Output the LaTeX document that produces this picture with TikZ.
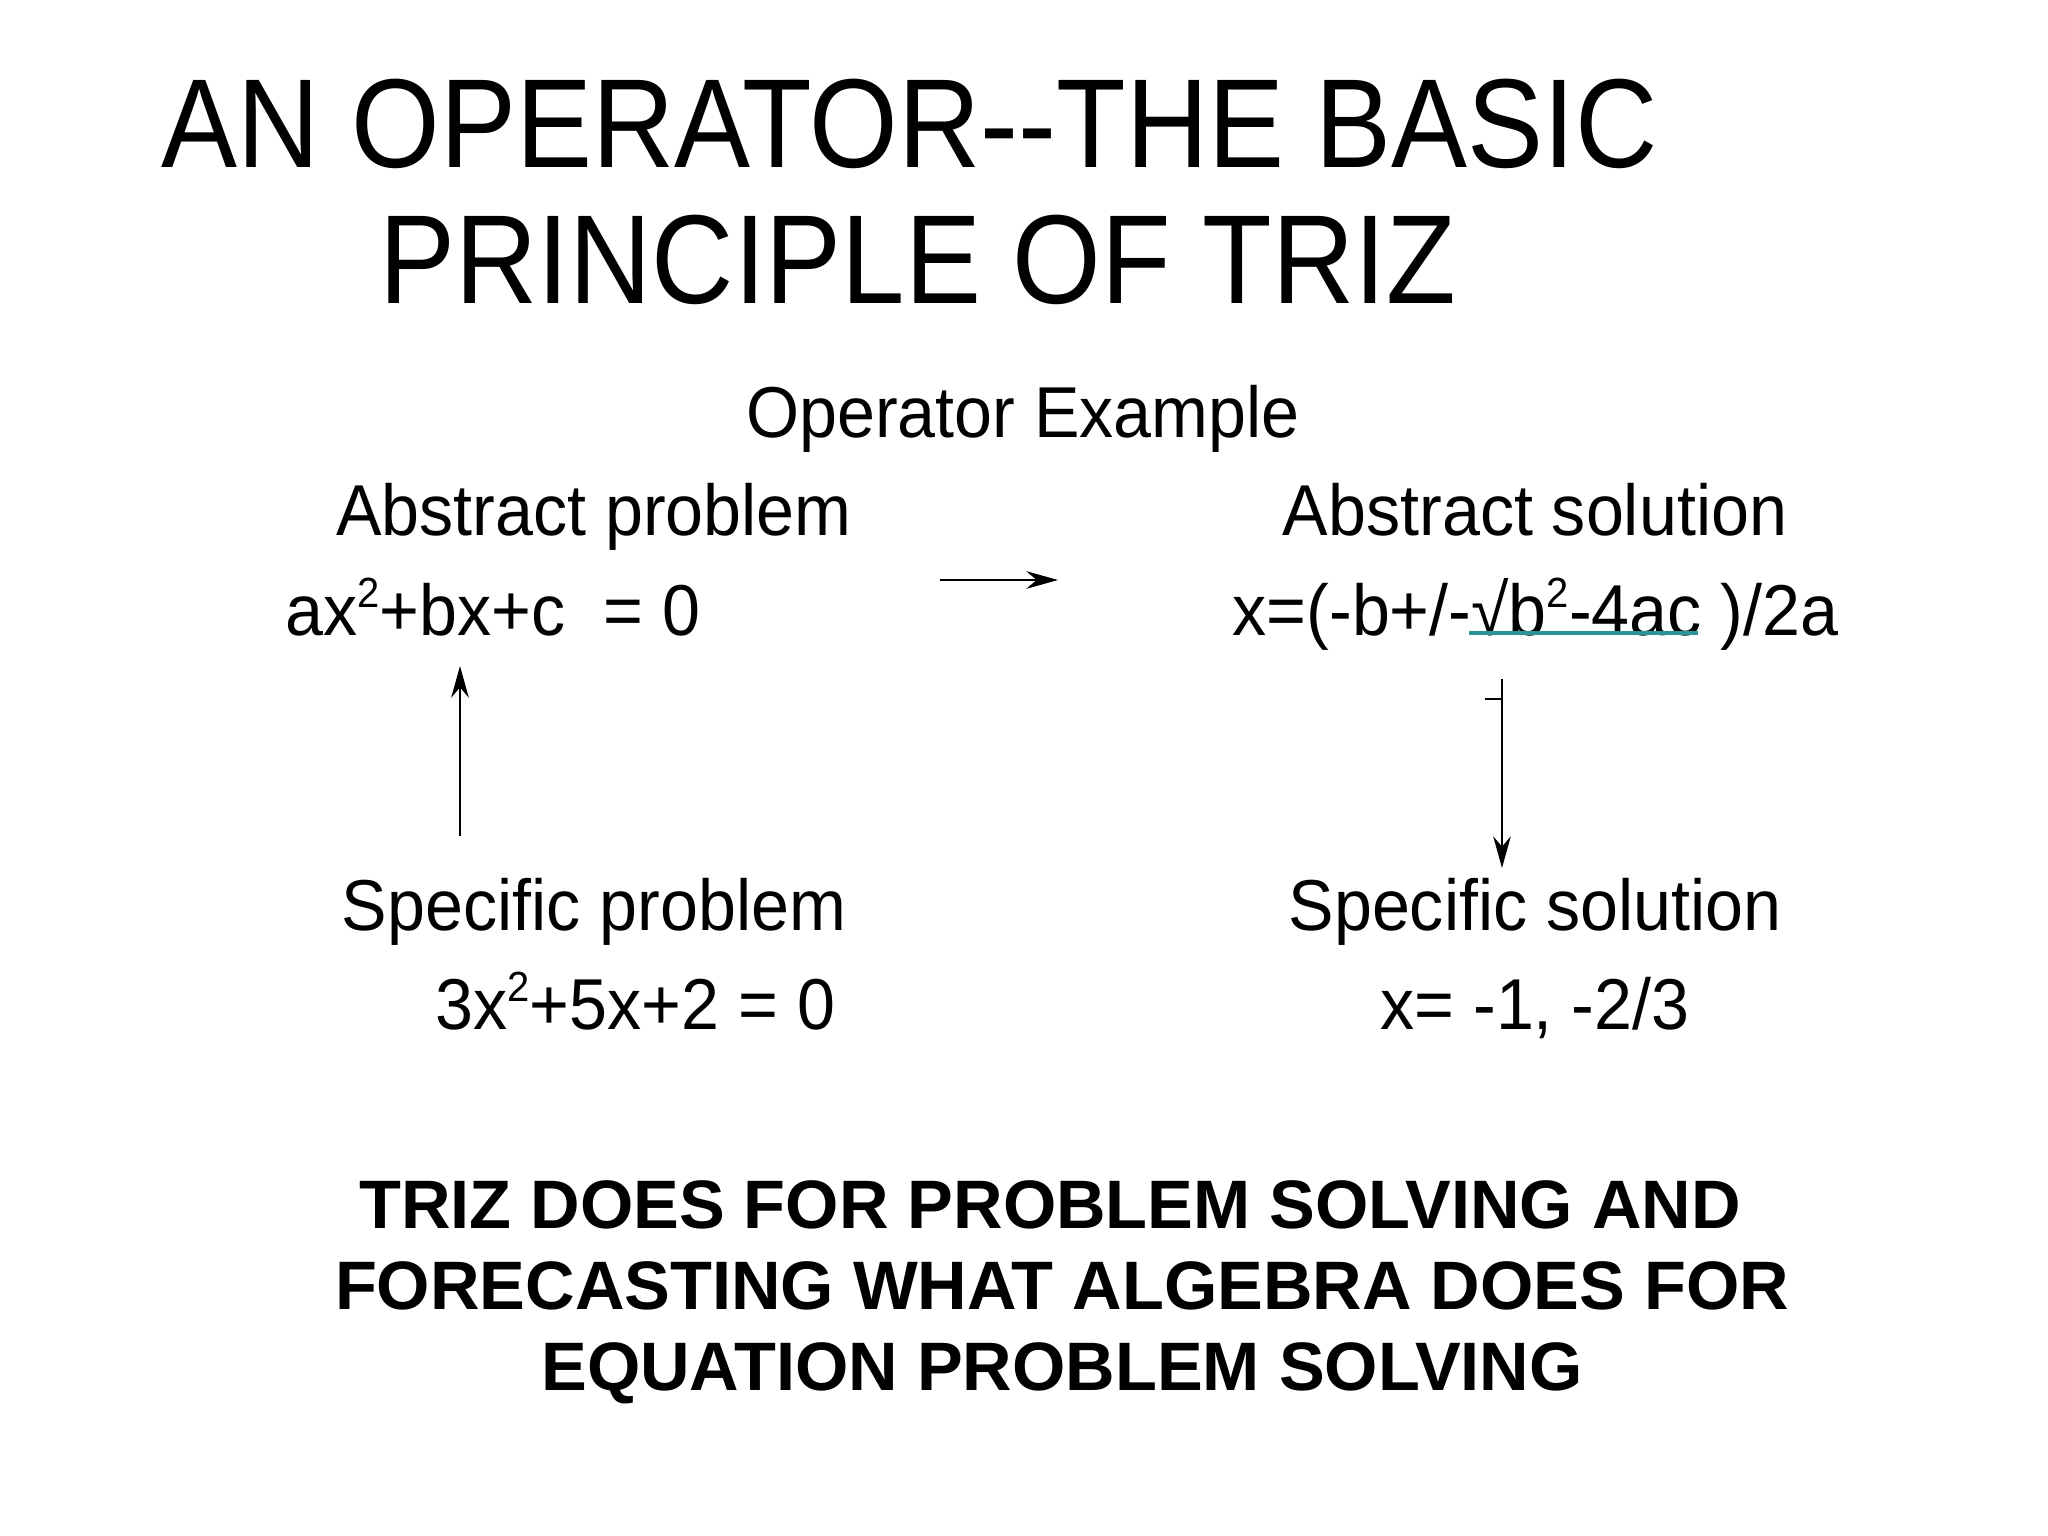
\documentclass[tikz,border=0pt]{standalone}
\usepackage{fontspec}
\usetikzlibrary{arrows.meta}
\setmainfont{Liberation Sans}
\definecolor{teal2}{RGB}{40,150,150}
\newcommand{\sq}[1]{\raisebox{0.38em}{\fontsize{12}{12}\selectfont #1}}
\newcommand{\tsc}[1]{\scalebox{0.9}[1]{#1}}
\newcommand{\bsc}[1]{\scalebox{0.946}[1]{#1}}
\begin{document}
\begin{tikzpicture}[x=0.01cm,y=-0.01cm,
  title/.style={font=\fontsize{36}{40}\selectfont,anchor=base west,inner sep=0},
  body/.style={font=\fontsize{20.5}{24}\selectfont,inner sep=0},
  bold/.style={font=\fontsize{19.5}{24}\selectfont\bfseries,inner sep=0,anchor=base},
  arr/.style={-{Stealth[length=9pt,width=5pt]},line width=0.7pt}]
\useasboundingbox[fill=white] (0,0) rectangle (2048,1536);
\node[title] (t1) at (161,167) {\tsc{AN OPERATOR-{}-THE BASIC}};
\node[title] (t2) at (379,303) {\tsc{PRINCIPLE OF TRIZ}};
\node[body,anchor=base] (oe) at (1023,437) {\bsc{Operator Example}};
\node[body,anchor=base] (ap) at (594,535) {\bsc{Abstract problem}};
\node[body,anchor=base west] (ae) at (285,635) {\bsc{ax\sq{2}+bx+c\ \ = 0}};
\node[body,anchor=base] (as) at (1535,535) {\bsc{Abstract solution}};
\node[body,anchor=base west] (ase) at (1232,635) {\bsc{x=(-b+/-√b\sq{2}-4ac )/2a}};
\node[body,anchor=base] (sp) at (594,930) {\bsc{Specific problem}};
\node[body,anchor=base west] (spe) at (435,1029) {\bsc{3x\sq{2}+5x+2 = 0}};
\node[body,anchor=base] (ss) at (1535,930) {\bsc{Specific solution}};
\node[body,anchor=base] (sse) at (1535,1029) {\bsc{x= -1, -2/3}};
\node[bold] (b1) at (1050,1228) {TRIZ DOES FOR PROBLEM SOLVING AND};
\node[bold] (b2) at (1062,1309) {FORECASTING WHAT ALGEBRA DOES FOR};
\node[bold] (b3) at (1062,1390) {EQUATION PROBLEM SOLVING};
\coordinate (h1) at (940,580); \coordinate (h2) at (1058,580);
\coordinate (u1) at (460,836); \coordinate (u2) at (460,666);
\coordinate (d1) at (1502,679); \coordinate (d2) at (1502,868);
\coordinate (k1) at (1485,699); \coordinate (k2) at (1502,699);
\coordinate (tl1) at (1469,633); \coordinate (tl2) at (1698,633);
\draw[arr] (h1) -- (h2);
\draw[arr] (u1) -- (u2);
\draw[arr] (d1) -- (d2);
\draw[line width=0.7pt] (k1) -- (k2);
\draw[teal2,line width=1.2pt] (tl1) -- (tl2);
\end{tikzpicture}
\end{document}
